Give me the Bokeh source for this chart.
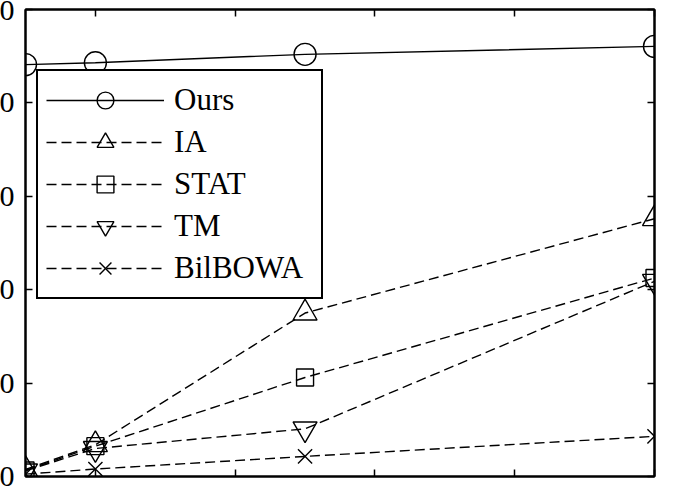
from bokeh.plotting import figure
from bokeh.models import Legend, LegendItem, LinearAxis, FixedTicker, Range1d, CustomJSTickFormatter
from bokeh.embed import file_html
from bokeh.resources import INLINE

# values
x_vals = [1, 2, 5, 10]
ours = [88.2, 88.6, 90.4, 92.1]
ia = [1.5, 6.8, 35.0, 55.2]
stat = [1.3, 6.5, 21.2, 42.5]
tm = [1.2, 6.0, 10.2, 41.8]
bilbowa = [0.5, 1.6, 4.3, 8.6]

names = ["Ours", "IA", "STAT", "TM", "BilBOWA"]
x_ticks = [2, 4, 6, 8, 10]
y_ticks = [0, 20, 40, 60, 80, 100]

FONT = "Liberation Serif"

# the reference is a crop: the y tick labels run off the left edge
p = figure(frame_width=629, frame_height=467,
           x_range=Range1d(1, 10), y_range=Range1d(0, 100),
           output_backend="svg", toolbar_location=None,
           x_axis_location=None, y_axis_location=None,
           min_border_left=0, min_border_right=10, min_border_top=9, min_border_bottom=10,
           styles={"margin-left": "-34px"})
p.grid.visible = False
p.outline_line_color = "black"
p.outline_line_alpha = 1
p.outline_line_width = 2
p.background_fill_color = "white"
p.border_fill_color = "white"

blank = CustomJSTickFormatter(code="return ''")


def make_axis(ticks, labels=True):
    ax = LinearAxis(ticker=FixedTicker(ticks=ticks))
    ax.major_tick_in = 7
    ax.major_tick_out = 0
    ax.minor_tick_line_color = None
    ax.axis_line_color = "black"
    ax.axis_line_width = 2
    ax.major_tick_line_color = "black"
    ax.major_tick_line_width = 1.5
    if labels:
        ax.major_label_text_font = FONT
        ax.major_label_text_font_size = "30px"
        ax.major_label_text_color = "black"
        ax.major_label_standoff = 11
    else:
        ax.formatter = blank
        ax.major_label_standoff = 0
    return ax


p.add_layout(make_axis(y_ticks, True), "left")
p.add_layout(make_axis(y_ticks, False), "right")
p.add_layout(make_axis(x_ticks, False), "below")
p.add_layout(make_axis(x_ticks, False), "above")

series = [ours, ia, stat, tm, bilbowa]
markers = ["circle", "triangle", "square", "inverted_triangle", "x"]
sizes = [22, 24, 17, 24, 20]
dashes = ["solid", "10 5", "10 5", "10 5", "10 5"]

items = []
for name, ys, mk, sz, dash in zip(names, series, markers, sizes, dashes):
    ln = p.line(x_vals, ys, line_color="black", line_width=1.4, line_dash=dash)
    sc = p.scatter(x_vals, ys, marker=mk, size=sz, line_color="black",
                   line_width=1.4, fill_color=None)
    items.append(LegendItem(label=name, renderers=[ln, sc]))

legend = Legend(items=items, location=(11, 177), margin=0,
                glyph_width=118, glyph_height=42, spacing=0, padding=8,
                label_standoff=10, label_width=139,
                label_text_font=FONT, label_text_font_size="31px",
                label_text_color="black",
                border_line_color="black", border_line_alpha=1, border_line_width=2,
                background_fill_color="white", background_fill_alpha=1)
p.add_layout(legend)

open("out.html", "w").write(file_html(p, INLINE))
